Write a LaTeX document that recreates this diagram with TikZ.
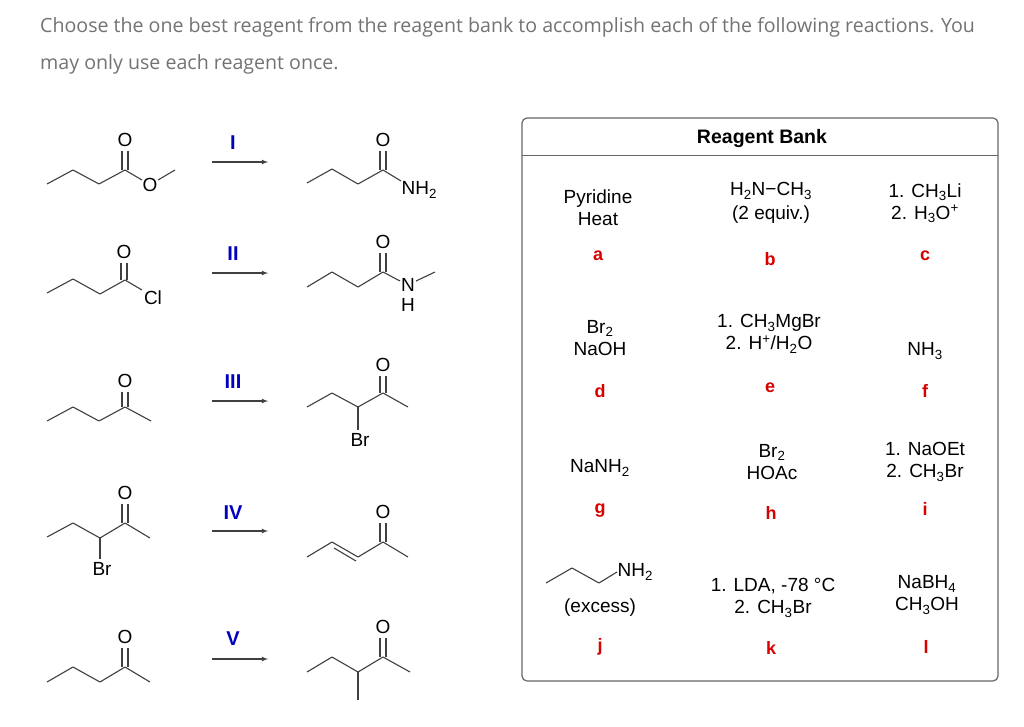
\documentclass[tikz,border=0pt]{standalone}
\usepackage{fontspec}
\setmainfont{Liberation Sans}
\newfontfamily\headfont{Open Sans}
\newcommand\dn[1]{\textsubscript{#1}}
\newcommand\up[1]{\textsuperscript{#1}}
\begin{document}
\begin{tikzpicture}[x=1pt,y=-1pt,
  bond/.style={draw=black!75,line width=1.1pt,line join=round},
  atom/.style={inner sep=0.5pt,font=\fontsize{19}{19}\selectfont},
  rn/.style={font=\fontsize{20}{20}\selectfont\bfseries,text=blue!75!black},
  rarr/.style={draw=black!75,line width=1.1pt,-latex},
  rg/.style={font=\fontsize{19}{22}\selectfont,align=center,inner sep=0pt},
  lt/.style={font=\fontsize{18}{18}\selectfont\bfseries,text=red!85!black},
  hd/.style={font=\headfont\fontsize{19.6}{19.6}\selectfont,text=black!55,anchor=west,inner sep=0pt}]
\useasboundingbox[fill=white] (0,0) rectangle (1024,726);
\node[hd] (t1) at (40,27) {Choose the one best reagent from the reagent bank to accomplish each of the following reactions. You};
\node[hd] (t2) at (40,64) {may only use each reagent once.};
% Row 1 reactant
\node[atom] (o1) at (125,140) {O};
\node[atom] (oe1) at (150,185) {O};
\draw[bond] (47,184)--(73,170)--(99,184)--(125,170)--(142,180);
\draw[bond] (158,180)--(175,170);
\draw[bond] (122,170)--(122,151); \draw[bond] (128,170)--(128,151);
% Row 1 product
\node[atom] (o2) at (383,140) {O};
\node[atom,anchor=west] (n2) at (401,190) {NH\dn{2}};
\draw[bond] (307,183)--(332,169)--(358,184)--(383,170)--(401,181);
\draw[bond] (380,170)--(380,151); \draw[bond] (386,170)--(386,151);
% Row 2 reactant
\node[atom] (o3) at (124,252) {O};
\node[atom] (cl3) at (153,298) {Cl};
\draw[bond] (47,293)--(73,279)--(100,294)--(125,280)--(142,290);
\draw[bond] (121,280)--(121,263); \draw[bond] (127,280)--(127,263);
% Row 2 product
\node[atom] (o4) at (383,242) {O};
\node[atom] (n4) at (408,285) {N};
\node[atom] (h4) at (408,305) {H};
\draw[bond] (307,287)--(332,272)--(358,287)--(383,272)--(400,281);
\draw[bond] (416,281)--(435,272);
\draw[bond] (380,272)--(380,253); \draw[bond] (386,272)--(386,253);
% Row 3 reactant
\node[atom] (o5) at (125,381) {O};
\draw[bond] (47,421)--(73,407)--(99,421)--(125,407)--(151,421);
\draw[bond] (122,407)--(122,392); \draw[bond] (128,407)--(128,392);
% Row 3 product
\node[atom] (o6) at (383,365) {O};
\node[atom] (br6) at (360,440) {Br};
\draw[bond] (307,407)--(332,393)--(358,407)--(383,393)--(408,407);
\draw[bond] (358,407)--(358,430);
\draw[bond] (380,393)--(380,376); \draw[bond] (386,393)--(386,376);
% Row 4 reactant
\node[atom] (o7) at (125,493) {O};
\node[atom] (br7) at (102,569) {Br};
\draw[bond] (47,537)--(73,523)--(100,538)--(125,523)--(150,538);
\draw[bond] (100,538)--(100,559);
\draw[bond] (122,523)--(122,504); \draw[bond] (128,523)--(128,504);
% Row 4 product
\node[atom] (o8) at (383,512) {O};
\draw[bond] (307,557)--(332,542)--(358,557)--(383,542)--(408,557);
\draw[bond] (334,548)--(356,561);
\draw[bond] (380,542)--(380,523); \draw[bond] (386,542)--(386,523);
% Row 5 reactant
\node[atom] (o9) at (125,637) {O};
\draw[bond] (47,682)--(73,667)--(100,682)--(125,667)--(150,682);
\draw[bond] (122,667)--(122,648); \draw[bond] (128,667)--(128,648);
% Row 5 product
\node[atom] (o10) at (383,627) {O};
\draw[bond] (307,672)--(332,657)--(358,672)--(383,657)--(410,672);
\draw[bond] (358,672)--(358,700);
\draw[bond] (380,657)--(380,638); \draw[bond] (386,657)--(386,638);
% arrows
\foreach \y/\lab/\ly in {162/I/143,273/II/254,401/III/382,531/IV/513,659/V/639}{
  \node[rn] (l\lab) at (233,\ly) {\lab};
  \coordinate (a\lab) at (212,\y); \coordinate (b\lab) at (268,\y);
  \draw[rarr] (a\lab)--(b\lab);
}
% Reagent bank
\draw[black!60,line width=1.2pt,rounded corners=5pt] (522,118) rectangle (998,681);
\draw[black!60,line width=1pt] (522,155)--(998,155);
\node[rg,font=\fontsize{19.5}{22}\selectfont\bfseries] (hdr) at (762,138) {Reagent Bank};
\node[rg] (ra) at (598,208) {Pyridine\\Heat};
\node[rg] (rb) at (771,203) {H\dn{2}N−CH\dn{3}\\[2pt](2 equiv.)};
\node[rg] (rc) at (925,203) {1. CH\dn{3}Li\\2. H\dn{3}O\up{+}};
\node[lt] (la) at (598,256) {a}; \node[lt] (lb) at (770,259) {b}; \node[lt] (lc) at (925,256) {c};
\node[rg] (rd) at (600,338) {Br\dn{2}\\NaOH};
\node[rg] (re) at (769,334) {1. CH\dn{3}MgBr\\2. H\up{+}/H\dn{2}O};
\node[rg] (rf) at (925,351) {NH\dn{3}};
\node[lt] (ld) at (600,391) {d}; \node[lt] (le) at (770,388) {e}; \node[lt] (lf) at (925,391) {f};
\node[rg] (rg1) at (600,468) {NaNH\dn{2}};
\node[rg] (rh) at (772,462) {Br\dn{2}\\HOAc};
\node[rg] (ri) at (925,462) {1. NaOEt\\2. CH\dn{3}Br};
\node[lt] (lg) at (600,511) {g}; \node[lt] (lh) at (771,513) {h}; \node[lt] (li) at (925,509) {i};
\node[atom,anchor=west] (nj) at (617,572) {NH\dn{2}};
\draw[bond] (546,583)--(572,568)--(599,583)--(nj.west);
\node[rg] (rj) at (600,608) {(excess)};
\node[rg] (rk) at (773,598) {1. LDA, -78 °C\\2. CH\dn{3}Br};
\node[rg] (rl) at (927,595) {NaBH\dn{4}\\CH\dn{3}OH};
\node[lt] (lj) at (600,647) {j}; \node[lt] (lk) at (771,648) {k}; \node[lt] (ll) at (926,647) {l};
\end{tikzpicture}
\end{document}
